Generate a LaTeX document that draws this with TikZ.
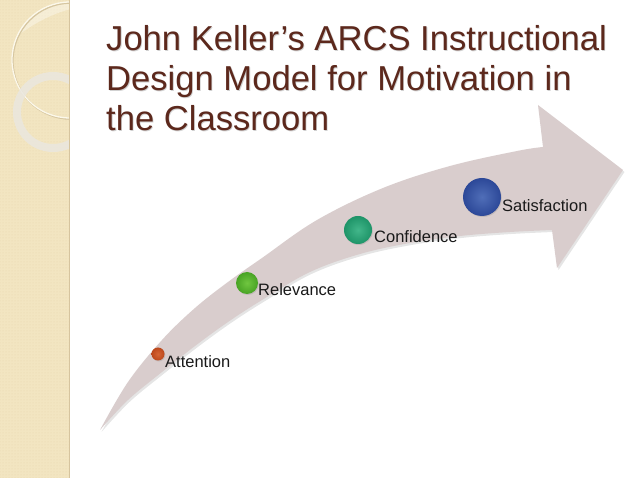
\documentclass[tikz,border=0pt]{standalone}
\usepackage{fontspec}
\setmainfont{Liberation Sans}
\usetikzlibrary{patterns,shadows}
\definecolor{stripcol}{RGB}{242,229,193}
\definecolor{stripdot}{RGB}{232,215,175}
\definecolor{sepcol}{RGB}{214,196,158}
\definecolor{circcol}{RGB}{252,248,234}
\definecolor{circshadow}{RGB}{214,198,160}
\definecolor{ringcol}{RGB}{234,231,223}
\definecolor{titlecol}{RGB}{92,40,28}
\definecolor{bandcol}{RGB}{217,205,205}
\definecolor{labelcol}{RGB}{25,25,25}
\definecolor{attO}{RGB}{188,72,28}
\definecolor{attI}{RGB}{214,100,52}
\definecolor{relO}{RGB}{72,163,36}
\definecolor{relI}{RGB}{112,198,64}
\definecolor{conO}{RGB}{30,148,104}
\definecolor{conI}{RGB}{66,182,138}
\definecolor{satO}{RGB}{44,72,152}
\definecolor{satI}{RGB}{80,110,184}
\newcommand\bandpath{plot[smooth, tension=0.6] coordinates {(100,430) (128,382) (162,340) (195,308) (228,282) (262,258) (317,220) (383,188) (450,166) (517,151) (543,147)} -- (538,105) -- (623,170) -- (557,268) -- (552,230) -- plot[smooth, tension=0.6] coordinates {(552,230) (510,232) (460,236) (410,243) (360,254) (310,272) (262,300) (228,322) (195,346) (162,372) (128,400) (100,430)} -- cycle}
\tikzset{
  titletext/.style={anchor=base west, inner sep=0pt, text=titlecol, font=\fontsize{34.6}{40}\selectfont},
  titleshadow/.style={anchor=base west, inner sep=0pt, text=black, opacity=0.18, font=\fontsize{34.6}{40}\selectfont},
  stagelabel/.style={anchor=base west, inner sep=0pt, text=labelcol, font=\fontsize{16.5}{19}\selectfont},
  stagedot/.style={circle, inner sep=0pt, draw=none, drop shadow={opacity=0.25, shadow xshift=0.8pt, shadow yshift=-1pt}}
}
\begin{document}
\begin{tikzpicture}[x=1pt,y=-1pt]
\useasboundingbox (0,0) rectangle (638,478);
\fill[white] (0,0) rectangle (638,478);
% left decorative strip
\begin{scope}
  \clip (0,0) rectangle (69,478);
  \fill[stripcol] (0,0) rectangle (69,478);
  \fill[pattern=dots, pattern color=stripdot] (0,0) rectangle (69,478);
  \begin{scope}
    \clip (70,60) circle[radius=58pt];
    \fill[white, opacity=0.35] (0,0) -- (0,50) .. controls (25,28) and (48,14) .. (75,8) -- (75,0) -- cycle;
  \end{scope}
  \draw[circshadow, line width=1.6pt] (70.8,61) circle[radius=58pt];
  \draw[circcol, line width=1.3pt] (70,60) circle[radius=58pt];
  \draw[ringcol, line width=8pt, opacity=0.85] (53,112) circle[radius=36pt];
\end{scope}
\draw[sepcol, line width=1pt] (69.5,0) -- (69.5,478);
% title
\node[titleshadow] at (106.8,51.8) {John Keller’s ARCS Instructional};
\node[titleshadow] at (106.8,91.8) {Design Model for Motivation in};
\node[titleshadow] at (106.8,131.8) {the Classroom};
\node[titletext] (t1) at (106,51) {John Keller’s ARCS Instructional};
\node[titletext] (t2) at (106,91) {Design Model for Motivation in};
\node[titletext] (t3) at (106,131) {the Classroom};
% curved arrow
\begin{scope}[shift={(1.5,2)}]
  \fill[black, opacity=0.10] \bandpath;
\end{scope}
\fill[bandcol] \bandpath;
% stages
\node[stagedot, minimum size=13pt, inner color=attI, outer color=attO] (att) at (158,354) {};
\node[stagedot, minimum size=22pt, inner color=relI, outer color=relO] (rel) at (247,283) {};
\node[stagedot, minimum size=28pt, inner color=conI, outer color=conO] (con) at (358,230) {};
\node[stagedot, minimum size=38pt, inner color=satI, outer color=satO] (sat) at (482,197) {};
\node[stagelabel] (attL) at (165,368) {Attention};
\node[stagelabel] (relL) at (258,296) {Relevance};
\node[stagelabel] (conL) at (374,243) {Confidence};
\node[stagelabel] (satL) at (502,212) {Satisfaction};
\end{tikzpicture}
\end{document}
